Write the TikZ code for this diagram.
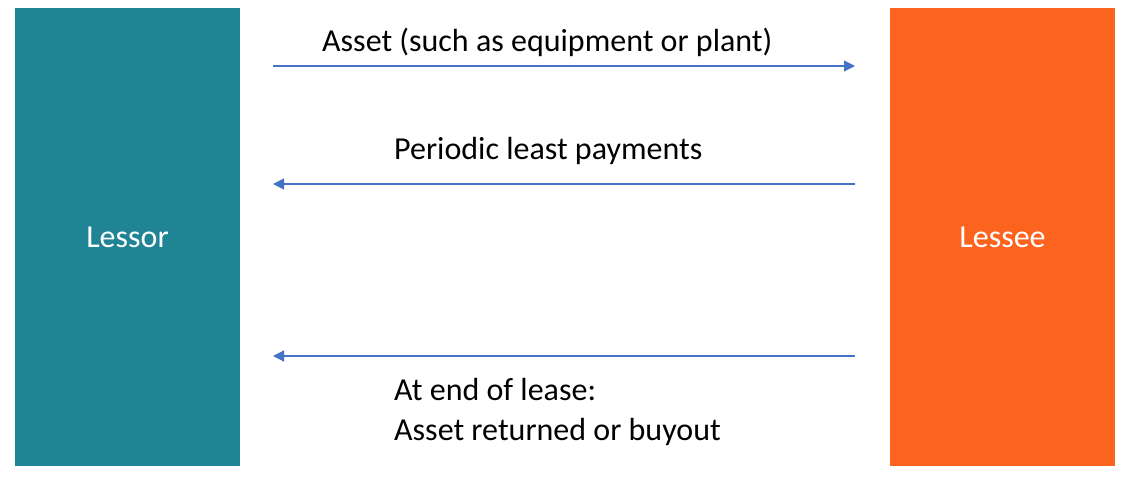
\documentclass[tikz,border=0pt]{standalone}
\usepackage{fontspec}
\setmainfont{Carlito}
\definecolor{lessorteal}{HTML}{1F8494}
\definecolor{lesseeorange}{HTML}{FC631E}
\definecolor{flowblue}{HTML}{4472C4}
\tikzstyle{party} = [rectangle, minimum width=225pt, minimum height=458pt,
  inner sep=0pt, text=white, font=\fontsize{32}{40}\selectfont]
\tikzstyle{flow} = [draw=flowblue, line width=1.2pt, -{Triangle[length=11pt,width=11pt]}]
\tikzstyle{caption} = [anchor=base west, inner sep=0pt, font=\fontsize{32}{40}\selectfont]
\usetikzlibrary{arrows.meta}
\begin{document}
\begin{tikzpicture}[x=1pt,y=-1pt]
        \useasboundingbox (0,0) rectangle (1128,478);
        \node [party, fill=lessorteal]   (lessor) at (127.5,237) {\raisebox{-1pt}{Lessor}};
        \node [party, fill=lesseeorange] (lessee) at (1002.5,237) {\raisebox{-1pt}{Lessee}};

        \coordinate (a1) at (273,66);  \coordinate (b1) at (855,66);
        \coordinate (a2) at (273,184); \coordinate (b2) at (855,184);
        \coordinate (a3) at (273,356); \coordinate (b3) at (855,356);

        \draw[flow] (a1) -- (b1);
        \draw[flow] (b2) -- (a2);
        \draw[flow] (b3) -- (a3);

        \node [caption] (asset)   at (322,52)  {Asset (such as equipment or plant)};
        \node [caption] (payment) at (394,160) {Periodic least payments};
        \node [caption] (endlease) at (394,401) {At end of lease:};
        \node [caption] (buyout)   at (394,441) {Asset returned or buyout};
      \end{tikzpicture}
\end{document}
